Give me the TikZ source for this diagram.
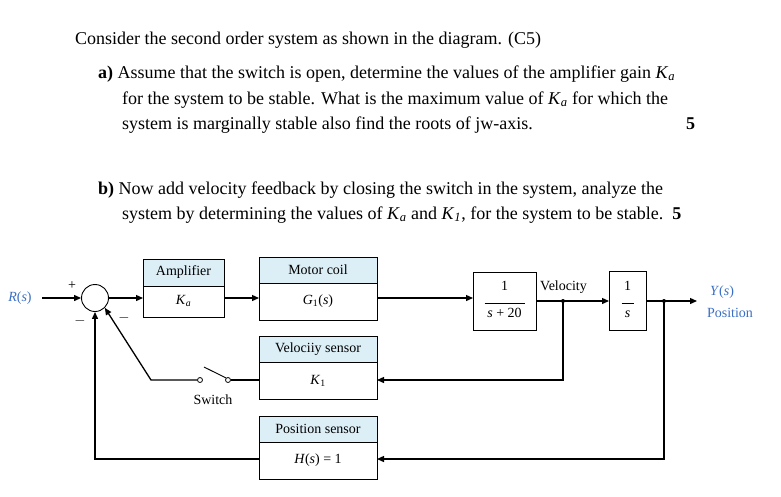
\documentclass[tikz,border=0pt]{standalone}
\usepackage{fontspec}
\setmainfont{Liberation Serif}
\usetikzlibrary{arrows.meta}
\definecolor{hdr}{HTML}{DDEFF6}
\definecolor{sig}{HTML}{3A6FC4}
\newcommand{\Kx}[1]{\textit{K}\textsubscript{\textit{#1}}}
\begin{document}
\begin{tikzpicture}[x=1pt,y=-1pt,
  txt/.style={anchor=base west,inner sep=0pt,font=\fontsize{18}{21}\selectfont},
  lbl/.style={inner sep=0pt,font=\fontsize{14}{16}\selectfont},
  box/.style={draw,line width=0.9pt},
  ln/.style={line width=1.3pt},
  arr/.style={ln,-{Triangle[length=7pt,width=6pt]}},
  dot/.style={circle,fill,inner sep=0pt,minimum size=4pt}]
\useasboundingbox (0,0) rectangle (781,496);
% text
\node[txt] (t0) at (75,44) {Consider the second order system as shown in the diagram. (C5)};
\node[txt] (t1) at (98,78) {\textbf{a)}\ Assume that the switch is open, determine the values of the amplifier gain \Kx{a}};
\node[txt] (t2) at (122,104) {for the system to be stable. What is the maximum value of \Kx{a} for which the};
\node[txt] (t3) at (122,129) {system is marginally stable also find the roots of jw-axis.};
\node[txt] (t4) at (686,129) {\textbf{5}};
\node[txt] (t5) at (98,194) {\textbf{b)}\ Now add velocity feedback by closing the switch in the system, analyze the};
\node[txt] (t6) at (122,219) {system by determining the values of \Kx{a} and \Kx{1}, for the system to be stable.\ \ \textbf{5}};
% boxes
\fill[hdr] (143,259) rectangle (224,286);
\draw[box] (143,259) rectangle (224,317); \draw[box] (143,286) -- (224,286);
\node[lbl] (amp) at (183.5,272.5) {Amplifier};
\node[lbl] (ka) at (183.5,301) {\Kx{a}};
\fill[hdr] (259,257) rectangle (377,283);
\draw[box] (259,257) rectangle (377,320); \draw[box] (259,283) -- (377,283);
\node[lbl] (mc) at (318,270) {Motor coil};
\node[lbl] (g1) at (318,301) {\textit{G}\textsubscript{1}(\textit{s})};
\fill[hdr] (259,336) rectangle (377,362);
\draw[box] (259,336) rectangle (377,399); \draw[box] (259,362) -- (377,362);
\node[lbl] (vs) at (318,349) {Velociiy sensor};
\node[lbl] (k1) at (318,381) {\textit{K}\textsubscript{1}};
\fill[hdr] (259,416) rectangle (377,442);
\draw[box] (259,416) rectangle (377,479); \draw[box] (259,442) -- (377,442);
\node[lbl] (ps) at (318,429) {Position sensor};
\node[lbl] (hs) at (318,460) {\textit{H}(\textit{s}) = 1};
\draw[box] (473,272) rectangle (536,330);
\node[lbl] (p1) at (504.5,301) {\begin{tabular}{@{}c@{}}1\\[-3pt]\rule{40pt}{0.5pt}\\[-2pt]\textit{s} + 20\end{tabular}};
\draw[box] (609,271) rectangle (646,330);
\node[lbl] (p2) at (627.5,301) {\begin{tabular}{@{}c@{}}1\\[-3pt]\rule{12pt}{0.5pt}\\[-2pt]\textit{s}\end{tabular}};
\node[lbl,anchor=base west] (vel) at (540,290) {Velocity};
% sum
\node[circle,draw,line width=0.9pt,minimum size=27pt,inner sep=0pt] (sum) at (95,298) {};
\node[lbl,text=sig] (r) at (20,298) {\textit{R}(\textit{s})};
\node[lbl,text=sig] (y) at (722,292) {\textit{Y}(\textit{s})};
\node[lbl,text=sig] (pos) at (730,313) {Position};
\node[lbl] (pl) at (72,286) {+};
\node[lbl] (m1) at (80,321) {$-$};
\node[lbl] (m2) at (124,318) {$-$};
\node[lbl] (sw) at (213,400) {Switch};
% coordinates
\coordinate (rin) at (42,298);
\coordinate (d1) at (563,301);
\coordinate (d2) at (664,301);
\coordinate (yout) at (697,301);
\node[dot] (dd1) at (d1) {};
\node[dot] (dd2) at (d2) {};
\node[circle,draw,line width=0.8pt,inner sep=0pt,minimum size=5pt,fill=white] (c1) at (200,380) {};
\node[circle,draw,line width=0.8pt,inner sep=0pt,minimum size=5pt,fill=white] (c2) at (228,380) {};
\coordinate (swt) at (204,367);
% connectors
\draw[arr] (rin) -- (sum.west);
\draw[arr] (sum.east) -- (143,298);
\draw[arr] (224,298) -- (259,298);
\draw[arr] (377,298) -- (473,298);
\draw[arr] (536,301) -- (609,301);
\draw[arr] (646,301) -- (yout);
\draw[arr] (d1) -- (563,380) -- (377,380);
\draw[arr] (d2) -- (664,459) -- (377,459);
\draw[ln] (259,380) -- (c2);
\draw[line width=0.9pt] (swt) -- (c2.north west);
\draw[arr] (c1) -- (151,380) -- (sum.-45);
\draw[arr] (259,459) -- (95,459) -- (sum.south);
\end{tikzpicture}
\end{document}
